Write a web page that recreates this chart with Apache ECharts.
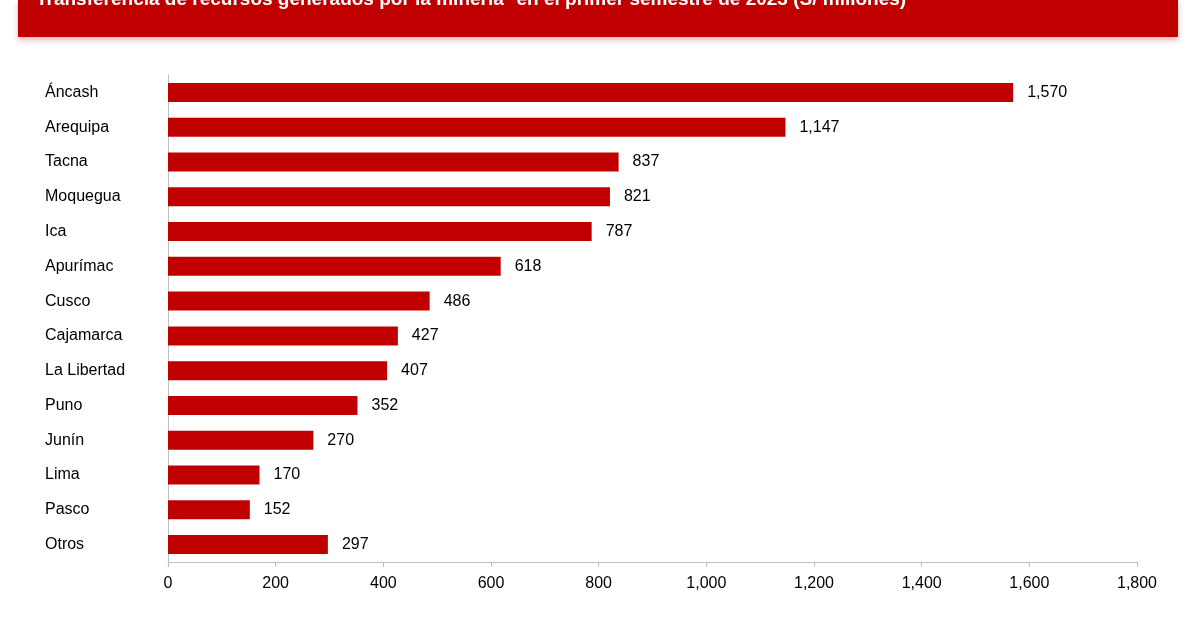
<!DOCTYPE html>
<html><head><meta charset="utf-8">
<script src="https://cdn.jsdelivr.net/npm/echarts@6/dist/echarts.min.js"></script>
<style>body{margin:0;background:#fff}#c{width:1200px;height:630px}</style>
</head><body><div id="c"></div>
<script>
var regiones = ['Áncash', 'Arequipa', 'Tacna', 'Moquegua', 'Ica', 'Apurímac', 'Cusco', 'Cajamarca', 'La Libertad', 'Puno', 'Junín', 'Lima', 'Pasco', 'Otros'];
var montos = [1570, 1147, 837, 821, 787, 618, 486, 427, 407, 352, 270, 170, 152, 297];

var chart = echarts.init(document.getElementById('c'));
chart.setOption({
  backgroundColor: '#fff',
  graphic: [{
    type: 'rect', shape: {x: 18, y: 0, width: 1160, height: 37},
    style: {fill: '#c00000', shadowBlur: 6, shadowColor: 'rgba(200,0,0,0.3)', shadowOffsetY: 3}
  }, {
    type: 'text', left: 36, top: -10,
    style: {text: 'Transferencia de recursos generados por la minería* en el primer semestre de 2023 (S/ millones)',
      fill: '#fff', font: 'bold 19px "Liberation Sans", Arial, sans-serif'}
  }],
  grid: {left: 168, right: 63, top: 75, bottom: 68},
  xAxis: {
    type: 'value', min: 0, max: 1800, interval: 200,
    axisLine: {show: true, lineStyle: {color: '#bfbfbf'}},
    axisTick: {show: true, length: 5, lineStyle: {color: '#bfbfbf'}},
    splitLine: {show: false},
    axisLabel: {color: '#000', fontSize: 16, fontFamily: 'Liberation Sans', margin: 14,
      formatter: function (v) { return v.toLocaleString('en-US'); }}
  },
  yAxis: {
    type: 'category', data: regiones, inverse: true,
    axisLine: {show: true, lineStyle: {color: '#bfbfbf'}},
    axisTick: {show: false},
    axisLabel: {color: '#000', fontSize: 16, fontFamily: 'Liberation Sans', align: 'left', margin: 123}
  },
  series: [{
    type: 'bar', data: montos, barWidth: 19,
    itemStyle: {color: '#c00000'},
    label: {show: true, position: 'right', distance: 14, color: '#000', fontSize: 16, fontFamily: 'Liberation Sans',
      formatter: function (p) { return p.value.toLocaleString('en-US'); }}
  }]
});
</script></body></html>
